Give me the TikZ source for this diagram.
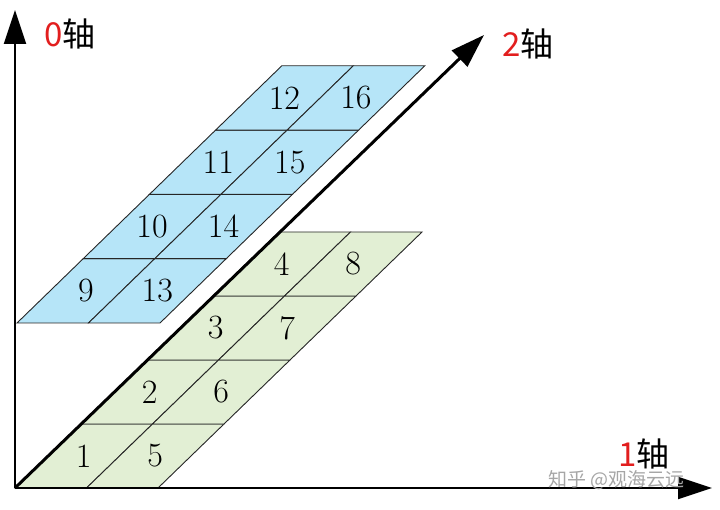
\documentclass[tikz,border=0pt]{standalone}
\usepackage{fontspec}
\newfontfamily\cjkfont{Noto Sans CJK SC}
\usetikzlibrary{arrows.meta}
\definecolor{axred}{RGB}{226,30,30}
\definecolor{gfill}{RGB}{226,239,212}
\definecolor{bfill}{RGB}{182,229,248}
\tikzset{
  axis/.style={line width=2pt,-{Triangle[length=34pt,width=22pt]}},
  diagaxis/.style={line width=3pt,-{Triangle[length=34pt,width=22pt]}},
  gcell/.style={fill=gfill,draw=black!85,line width=0.9pt},
  bcell/.style={fill=bfill,draw=black!85,line width=0.9pt},
  num/.style={font=\fontsize{34}{34}\selectfont,inner sep=0pt},
  axlabel/.style={font=\cjkfont\fontsize{33}{33}\selectfont,inner sep=0pt},
  wmark/.style={font=\cjkfont\fontsize{19}{19}\selectfont,text=black!35,inner sep=0pt}
}
\begin{document}
\begin{tikzpicture}[x=1pt,y=-1pt]
\useasboundingbox (0,0) rectangle (720,510);
% green slab (1..8)
\foreach \n [count=\i from 0] in {1,...,8} {
  \pgfmathsetmacro\cx{15+71.5*int(\i/4)+66*mod(\i,4)}
  \pgfmathsetmacro\cy{488-64*mod(\i,4)}
  \draw[gcell] (\cx,\cy) -- ++(71.5,0) -- ++(66,-64) -- ++(-71.5,0) -- cycle;
  \node[num] (g\n) at (\cx+68.75,\cy-32) {\n};
}
% blue slab (9..16)
\foreach \n [count=\i from 0] in {9,...,16} {
  \pgfmathsetmacro\cx{17+71.5*int(\i/4)+66.2*mod(\i,4)}
  \pgfmathsetmacro\cy{323-64.3*mod(\i,4)}
  \draw[bcell] (\cx,\cy) -- ++(71.5,0) -- ++(66.2,-64.3) -- ++(-71.5,0) -- cycle;
  \node[num] (b\n) at (\cx+68.85,\cy-32.15) {\n};
}
% axes
\coordinate (O) at (15,488);
\coordinate (T0) at (15,10);
\coordinate (T1) at (712,488);
\coordinate (T2) at (484,35);
\draw[axis] (O) -- (T0);
\draw[axis] (O) -- (T1);
\draw[diagaxis] (O) -- (T2);
\node[axlabel,anchor=west] (l0) at (44,34) {\textcolor{axred}{0}轴};
\node[axlabel,anchor=west] (l2) at (502,44) {\textcolor{axred}{2}轴};
\node[axlabel,anchor=west] (l1) at (618,454) {\textcolor{axred}{1}轴};
\node[wmark,anchor=west] (wm) at (548,480) {知乎 @观海云远};
\end{tikzpicture}
\end{document}
